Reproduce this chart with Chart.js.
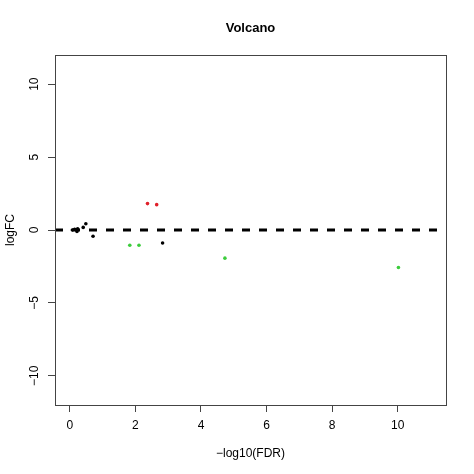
<!DOCTYPE html>
<html>
<head>
<meta charset="utf-8">
<script src="https://cdn.jsdelivr.net/npm/chart.js@4/dist/chart.umd.min.js"></script>
<style>
  html, body { margin: 0; padding: 0; background: #fff; }
  #wrap { width: 474px; height: 474px; }
</style>
</head>
<body>
<div id="wrap"><canvas id="volcano" width="474" height="474"></canvas></div>
<script>
// puntos: x = -log10(FDR), y = logFC
const negroFDR = [0.08, 0.15, 0.22, 0.24, 0.41, 0.49, 0.71, 2.83];
const negroLogFC = [0.00, 0.05, -0.10, 0.08, 0.18, 0.43, -0.43, -0.89];
const rojoFDR = [2.37, 2.65];
const rojoLogFC = [1.81, 1.74];
const verdeFDR = [1.83, 2.11, 4.73, 10.02];
const verdeLogFC = [-1.05, -1.05, -1.93, -2.57];

const ticksX = [0, 2, 4, 6, 8, 10];
const ticksY = [-10, -5, 0, 5, 10];
const umbral = 0;

const titulo = 'Volcano';
const tituloX = '\u2212log10(FDR)';
const tituloY = 'logFC';

const puntos = (xs, ys) => xs.map((x, i) => ({ x, y: ys[i] }));

const fuente = '"Liberation Sans", Arial, sans-serif';

const marco = {
    id: 'marco',
    afterDatasetsDraw(chart) {
        const { ctx, chartArea: a, scales } = chart;
        const y0 = scales.y.getPixelForValue(umbral);
        ctx.save();
        // linea punteada en logFC = 0
        ctx.strokeStyle = '#000';
        ctx.lineWidth = 3;
        ctx.setLineDash([8, 9]);
        ctx.beginPath();
        ctx.moveTo(a.left, y0);
        ctx.lineTo(a.right, y0);
        ctx.stroke();
        ctx.setLineDash([]);
        // caja
        ctx.strokeStyle = '#444';
        ctx.lineWidth = 1;
        ctx.strokeRect(a.left + 0.5, a.top + 0.5, a.right - a.left, a.bottom - a.top);
        ctx.restore();
    },
    afterDraw(chart) {
        const { ctx, chartArea: a, scales } = chart;
        ctx.save();
        ctx.fillStyle = '#000';
        ctx.textAlign = 'center';
        ctx.textBaseline = 'middle';
        ctx.font = 'bold 13px ' + fuente;
        ctx.fillText(titulo, (a.left + a.right) / 2, 28);
        ctx.font = '12px ' + fuente;
        ticksX.forEach(v => ctx.fillText(String(v), scales.x.getPixelForValue(v), 426));
        ctx.fillText(tituloX, (a.left + a.right) / 2, 454);
        ticksY.forEach(v => {
            ctx.save();
            ctx.translate(35, scales.y.getPixelForValue(v));
            ctx.rotate(-Math.PI / 2);
            ctx.fillText(String(v).replace('-', '\u2212'), 0, 0);
            ctx.restore();
        });
        ctx.save();
        ctx.translate(11, (a.top + a.bottom) / 2);
        ctx.rotate(-Math.PI / 2);
        ctx.fillText(tituloY, 0, 0);
        ctx.restore();
        ctx.restore();
    }
};

const serie = (data, color) => ({
    data,
    backgroundColor: color,
    borderColor: color,
    pointRadius: 1.8,
    pointBorderWidth: 0,
    pointHoverRadius: 1.8
});

new Chart(document.getElementById('volcano'), {
    type: 'scatter',
    data: {
        datasets: [
            serie(puntos(negroFDR, negroLogFC), '#000000'),
            serie(puntos(rojoFDR, rojoLogFC), '#e0202a'),
            serie(puntos(verdeFDR, verdeLogFC), '#3ccc3c')
        ]
    },
    options: {
        responsive: false,
        animation: false,
        events: [],
        layout: { padding: { top: 55, right: 28, left: 0, bottom: 0 } },
        plugins: { legend: { display: false }, tooltip: { enabled: false }, title: { display: false } },
        scales: {
            x: {
                type: 'linear',
                min: -0.45,
                max: 11.47,
                afterBuildTicks: s => { s.ticks = ticksX.map(value => ({ value })); },
                afterFit: s => { s.height = 69; },
                ticks: { display: false },
                grid: { drawOnChartArea: false, drawTicks: true, tickLength: 7, color: '#444' },
                border: { display: false }
            },
            y: {
                type: 'linear',
                min: -12,
                max: 12,
                afterBuildTicks: s => { s.ticks = ticksY.map(value => ({ value })); },
                afterFit: s => { s.width = 55; },
                ticks: { display: false },
                grid: { drawOnChartArea: false, drawTicks: true, tickLength: 7, color: '#444' },
                border: { display: false }
            }
        }
    },
    plugins: [marco]
});
</script>
</body>
</html>
